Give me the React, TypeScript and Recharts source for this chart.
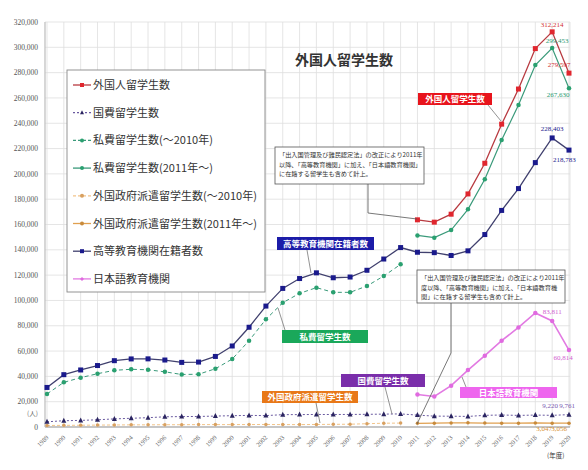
import React from "react";
import { LineChart, Line, XAxis, YAxis, CartesianGrid } from "recharts";

const years = ["1989","1990","1991","1992","1993","1994","1995","1996","1997","1998","1999","2000","2001","2002","2003","2004","2005","2006","2007","2008","2009","2010","2011","2012","2013","2014","2015","2016","2017","2018","2019","2020"];
const N = null;
const totalForeign = [N,N,N,N,N,N,N,N,N,N,N,N,N,N,N,N,N,N,N,N,N,N,163697,161848,168145,184155,208379,239287,267042,298980,312214,279597];
const govScholar = [4118,4961,5219,5699,6408,6880,7371,8051,8250,8323,8636,8930,9173,9009,9746,9804,9891,9869,9923,10020,10168,10349,9396,8588,8529,8351,9223,9481,9166,9423,9220,9761];
const privatePre = [26100,35300,39000,42100,44800,45600,45200,43600,41500,41700,46000,53700,68200,85100,98200,105600,110100,106400,106400,111400,119300,128500,N,N,N,N,N,N,N,N,N,N];
const privatePost = [N,N,N,N,N,N,N,N,N,N,N,N,N,N,N,N,N,N,N,N,N,N,151400,149600,155600,172000,195700,226800,254400,286000,299453,267630];
const foreignGovPre = [1200,1300,1400,1500,1600,1700,1700,1800,1800,1900,1900,1900,1950,2000,1900,1900,2000,2100,2200,2600,3000,3100,N,N,N,N,N,N,N,N,N,N];
const foreignGovPost = [N,N,N,N,N,N,N,N,N,N,N,N,N,N,N,N,N,N,N,N,N,N,2900,3000,3200,3300,3100,3000,3000,3200,3047,3056];
const higherEd = [31251,41347,45066,48561,52405,53787,53847,52921,51047,51298,55755,64011,78812,95550,109508,117302,121812,117927,118498,123829,132720,141774,138075,137756,135519,139185,152062,171122,188384,208901,228403,218783];
const langSchool = [N,N,N,N,N,N,N,N,N,N,N,N,N,N,N,N,N,N,N,N,N,N,25622,24092,32626,44970,56317,68165,78658,90079,83811,60814];
const yTicks = [0,20000,40000,60000,80000,100000,120000,140000,160000,180000,200000,220000,240000,260000,280000,300000,320000];

const data = years.map((y, i) => ({
  year: y,
  totalForeign: totalForeign[i],
  govScholar: govScholar[i],
  privatePre: privatePre[i],
  privatePost: privatePost[i],
  foreignGovPre: foreignGovPre[i],
  foreignGovPost: foreignGovPost[i],
  higherEd: higherEd[i],
  langSchool: langSchool[i],
}));

const C = {
  red: "#b83a40", redDot: "#e0262e",
  gov: "#6a5aa0", govDot: "#2a2460",
  green: "#3a9a7a", greenDot: "#2aa070",
  orPre: "#f2c48a", orPreDot: "#d8a060",
  orPost: "#e0a050", orPostDot: "#c88a3a",
  blue: "#40406e", blueDot: "#1a1a8c",
  pink: "#e27ae2", pinkDot: "#e06ae0",
};

const FONT_JP = "'Noto Sans CJK JP', 'Noto Sans', sans-serif";
const FONT_NUM = "'Liberation Serif', 'DejaVu Serif', serif";

function shapeEl(shape: string, cx: number, cy: number, fill: string, s: number, key?: any) {
  if (shape === "square") return <rect key={key} x={cx - s / 2} y={cy - s / 2} width={s} height={s} fill={fill} />;
  if (shape === "triangle") return <polygon key={key} points={`${cx},${cy - s * 0.6} ${cx - s / 2},${cy + s * 0.4} ${cx + s / 2},${cy + s * 0.4}`} fill={fill} />;
  if (shape === "diamond") return <polygon key={key} points={`${cx},${cy - s / 2} ${cx + s / 2},${cy} ${cx},${cy + s / 2} ${cx - s / 2},${cy}`} fill={fill} />;
  return <circle key={key} cx={cx} cy={cy} r={s / 2} fill={fill} />;
}

const makeDot = (shape: string, fill: string, s: number) => (p: any) => {
  const { cx, cy, index, value } = p;
  if (cx == null || cy == null || value == null || isNaN(cy)) return <g key={`e${index}`} />;
  return shapeEl(shape, cx, cy, fill, s, `d${index}`);
};

const fmt = (v: number) => v.toLocaleString("en-US");

type LblSpec = { year: string; dx: number; dy: number; anchor?: string };
const makeLabel = (series: (number | null)[], specs: LblSpec[], color: string) => (p: any) => {
  const { x, y, value } = p;
  if (value == null || x == null) return null;
  const spec = specs.find((s) => series[years.indexOf(s.year)] === value);
  if (!spec) return null;
  return (
    <text key={`l${value}`} x={x + spec.dx} y={y + spec.dy} textAnchor={(spec.anchor as any) || "middle"} fontSize={7} fill={color} fontFamily={FONT_NUM}>
      {fmt(value)}
    </text>
  );
};

const XTick = (p: any) => {
  const { x, y, payload } = p;
  return (
    <text x={x + 2} y={y + 3} transform={`rotate(-45 ${x + 2} ${y + 3})`} textAnchor="end" fontSize={6.5} fill="#666" fontFamily={FONT_NUM}>
      {payload.value}
    </text>
  );
};

const legendItems = [
  { label: "外国人留学生数", color: C.red, dot: C.redDot, shape: "square", dash: "" },
  { label: "国費留学生数", color: C.gov, dot: C.govDot, shape: "triangle", dash: "2 2" },
  { label: "私費留学生数(～2010年)", color: C.green, dot: C.greenDot, shape: "circle", dash: "3 2" },
  { label: "私費留学生数(2011年～)", color: C.green, dot: C.greenDot, shape: "circle", dash: "" },
  { label: "外国政府派遣留学生数(～2010年)", color: C.orPre, dot: C.orPreDot, shape: "circle", dash: "3 2" },
  { label: "外国政府派遣留学生数(2011年～)", color: C.orPost, dot: C.orPostDot, shape: "circle", dash: "" },
  { label: "高等教育機関在籍者数", color: C.blue, dot: C.blueDot, shape: "square", dash: "" },
  { label: "日本語教育機関", color: C.pink, dot: C.pinkDot, shape: "diamond", dash: "" },
];

const Tag = ({ x, y, w, h, bg, text, fs = 9 }: any) => (
  <g>
    <rect x={x} y={y} width={w} height={h} fill={bg} />
    <text x={x + w / 2} y={y + h / 2 + fs * 0.36} textAnchor="middle" fontSize={fs} fill="#fff" fontFamily={FONT_JP} fontWeight={700}>
      {text}
    </text>
  </g>
);

const Note = ({ x, y, w, h, lines }: any) => (
  <g>
    <rect x={x} y={y} width={w} height={h} fill="#fff" stroke="#555" strokeWidth={0.8} />
    {lines.map((l: string, i: number) => (
      <text key={i} x={x + 4} y={y + 10 + i * 9.5} fontSize={6.2} fill="#333" fontFamily={FONT_JP}>
        {l}
      </text>
    ))}
  </g>
);

export default function App() {
  return (
    <div style={{ position: "absolute", left: 0, top: 0, width: 588, height: 470, background: "#fff", overflow: "hidden" }}>
      <LineChart width={588} height={470} data={data} margin={{ top: 22, right: 18, bottom: 18, left: 0 }}>
        <CartesianGrid stroke="#dedede" strokeWidth={0.8} />
        <XAxis dataKey="year" height={25} padding={{ left: 2, right: 1 }} tick={<XTick />} tickLine={false} axisLine={{ stroke: "#999" }} interval={0} />
        <YAxis width={45} domain={[0, 320000]} ticks={yTicks} tickFormatter={fmt} tick={{ fontSize: 7.5, fill: "#555", fontFamily: FONT_NUM }} tickLine={false} tickSize={5} axisLine={{ stroke: "#bbb" }} interval={0} />
        <Line dataKey="foreignGovPre" stroke={C.orPre} strokeWidth={1} strokeDasharray="3 2" dot={makeDot("circle", C.orPreDot, 3.5)} isAnimationActive={false} />
        <Line dataKey="foreignGovPost" stroke={C.orPost} strokeWidth={1.2} dot={makeDot("circle", C.orPostDot, 3.5)} isAnimationActive={false}
          label={makeLabel(foreignGovPost, [{ year: "2019", dx: -8, dy: 8 }, { year: "2020", dx: -10, dy: 8 }], "#d89030")} />
        <Line dataKey="govScholar" stroke={C.gov} strokeWidth={1} strokeDasharray="2 2" dot={makeDot("triangle", C.govDot, 5)} isAnimationActive={false}
          label={makeLabel(govScholar, [{ year: "2019", dx: -2, dy: -7 }, { year: "2020", dx: -2, dy: -7 }], "#7a5ab0")} />
        <Line dataKey="langSchool" stroke={C.pink} strokeWidth={1.6} dot={makeDot("circle", C.pinkDot, 4.5)} isAnimationActive={false}
          label={makeLabel(langSchool, [{ year: "2019", dx: 0, dy: -7 }, { year: "2020", dx: -6, dy: 10 }], "#d060d0")} />
        <Line dataKey="privatePre" stroke={C.green} strokeWidth={1} strokeDasharray="4 3" dot={makeDot("circle", C.greenDot, 4.5)} isAnimationActive={false} />
        <Line dataKey="privatePost" stroke={C.green} strokeWidth={1.2} dot={makeDot("circle", C.greenDot, 4.5)} isAnimationActive={false}
          label={makeLabel(privatePost, [{ year: "2019", dx: 5, dy: -5 }, { year: "2020", dx: -11, dy: 9 }], "#2a9a70")} />
        <Line dataKey="higherEd" stroke={C.blue} strokeWidth={1.3} dot={makeDot("square", C.blueDot, 5)} isAnimationActive={false}
          label={makeLabel(higherEd, [{ year: "2019", dx: 0, dy: -7 }, { year: "2020", dx: -16, dy: 12, anchor: "start" }], "#1a1a8c")} />
        <Line dataKey="totalForeign" stroke={C.red} strokeWidth={1.3} dot={makeDot("square", C.redDot, 5)} isAnimationActive={false}
          label={makeLabel(totalForeign, [{ year: "2019", dx: 0, dy: -5 }, { year: "2020", dx: -10, dy: -6 }], "#d03030")} />
      </LineChart>

      <svg width={588} height={470} style={{ position: "absolute", left: 0, top: 0, pointerEvents: "none" }}>
        <text x={344} y={65} textAnchor="middle" fontSize={14} fontWeight={700} fill="#333" fontFamily={FONT_JP}>外国人留学生数</text>
        <text x={27} y={416} fontSize={6.5} fill="#666" fontFamily={FONT_JP}>(人)</text>
        <text x={547} y={458} fontSize={6.5} fill="#333" fontFamily={FONT_JP}>(年度)</text>

        {/* legend */}
        <rect x={67} y={70} width={198} height={222} fill="#fff" stroke="#888" strokeWidth={0.9} />
        {legendItems.map((it, i) => {
          const cy = 85 + i * 27.7;
          return (
            <g key={i}>
              <line x1={73} x2={91} y1={cy} y2={cy} stroke={it.color} strokeWidth={1.3} strokeDasharray={it.dash || undefined} />
              {shapeEl(it.shape, 82, cy, it.dot, 4)}
              <text x={93} y={cy + 4} fontSize={11} fill="#333" fontFamily={FONT_JP}>{it.label}</text>
            </g>
          );
        })}

        {/* callout 1 */}
        <polyline points="368,184 368,213 417,219" fill="none" stroke="#555" strokeWidth={0.8} />
        <Note x={275} y={147} w={149} h={37} lines={["「出入国管理及び難民認定法」の改正により2011年", "以降、「高等教育機関」に加え、「日本語教育機関」", "に在籍する留学生も含めて計上。"]} />

        {/* callout 2 */}
        <polyline points="451,303 451,353 417,424" fill="none" stroke="#555" strokeWidth={0.8} />
        <Note x={417} y={270} w={148} h={33} lines={["「出入国管理及び難民認定法」の改正により2011年", "度以降、「高等教育機関」に加え、「日本語教育機", "関」に在籍する留学生も含めて計上。"]} />

        {/* leader lines */}
        <line x1={488} y1={105} x2={501} y2={121} stroke="#777" strokeWidth={0.8} />
        <line x1={307} y1={250} x2={311} y2={273} stroke="#777" strokeWidth={0.8} />
        <line x1={278} y1={308} x2={285} y2={330} stroke="#777" strokeWidth={0.8} />
        <line x1={385} y1={387} x2={392} y2={414} stroke="#777" strokeWidth={0.8} />
        <line x1={316} y1={403} x2={320} y2={423} stroke="#777" strokeWidth={0.8} />
        <line x1={462} y1={377} x2={466} y2={387} stroke="#777" strokeWidth={0.8} />

        <Tag x={418} y={93} w={74} h={12} bg="#e8141c" text="外国人留学生数" fs={8.5} />
        <Tag x={277} y={237} w={97} h={13} bg="#1c1ca8" text="高等教育機関在籍者数" fs={8.5} />
        <Tag x={282} y={330} w={86} h={13} bg="#1aa85a" text="私費留学生数" fs={8.5} />
        <Tag x={341} y={374} w={84} h={13} bg="#7a2eaa" text="国費留学生数" fs={8.5} />
        <Tag x={262} y={391} w={96} h={12} bg="#e87818" text="外国政府派遣留学生数" fs={8.5} />
        <Tag x={460} y={387} w={97} h={11} bg="#ee66ee" text="日本語教育機関" fs={8.5} />
      </svg>
    </div>
  );
}
